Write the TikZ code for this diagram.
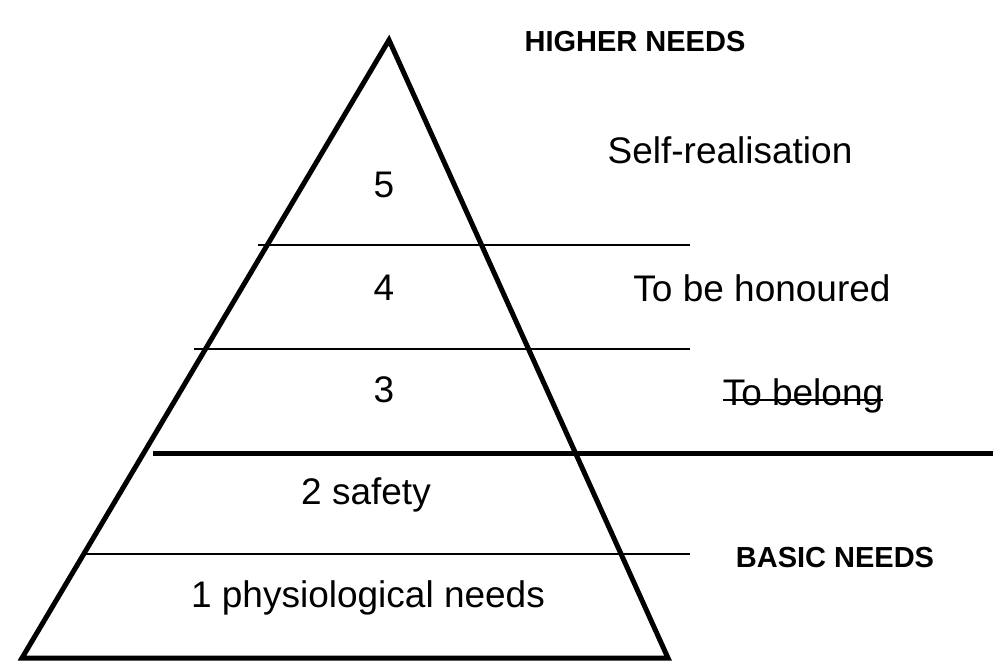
\documentclass[tikz,border=0pt]{standalone}
\usepackage{fontspec}
\setmainfont{Liberation Sans}
\begin{document}
\begin{tikzpicture}[x=1pt,y=-1pt,
  lbl/.style={font=\fontsize{37}{40}\selectfont,inner sep=0},
  hd/.style={font=\fontsize{29}{32}\selectfont\bfseries,inner sep=0},
  thin/.style={line width=1.3pt},
  thk/.style={line width=5pt}]
\useasboundingbox (0,0) rectangle (993,670);
\coordinate (A) at (389,40);
\coordinate (L) at (22,658);
\coordinate (R) at (668,658);
\draw[thk,line join=miter] (A) -- (L) -- (R) -- cycle;
\coordinate (a1) at (258,245); \coordinate (b1) at (690,245);
\coordinate (a2) at (194,349); \coordinate (b2) at (690,349);
\coordinate (a3) at (153,453); \coordinate (b3) at (993,453);
\coordinate (a4) at (84,554); \coordinate (b4) at (690,554);
\draw[thin] (a1) -- (b1);
\draw[thin] (a2) -- (b2);
\draw[thk] (a3) -- (b3);
\draw[thin] (a4) -- (b4);
\node[lbl] (n5) at (384,185) {5};
\node[lbl] (n4) at (384,288) {4};
\node[lbl] (n3) at (384,390) {3};
\node[lbl] (n2) at (366,495) {2 safety};
\node[lbl] (n1) at (368,598) {1 physiological needs};
\node[lbl] (t5) at (730,150) {Self-realisation};
\node[lbl] (t4) at (762,288) {To be honoured};
\node[lbl,anchor=base] (t3) at (803,405) {To belong};
\draw[line width=1.5pt] ([yshift=5]t3.base west) -- ([yshift=5]t3.base east);
\node[hd] (hn) at (635,42) {HIGHER NEEDS};
\node[hd] (bn) at (835,558) {BASIC NEEDS};
\end{tikzpicture}
\end{document}
